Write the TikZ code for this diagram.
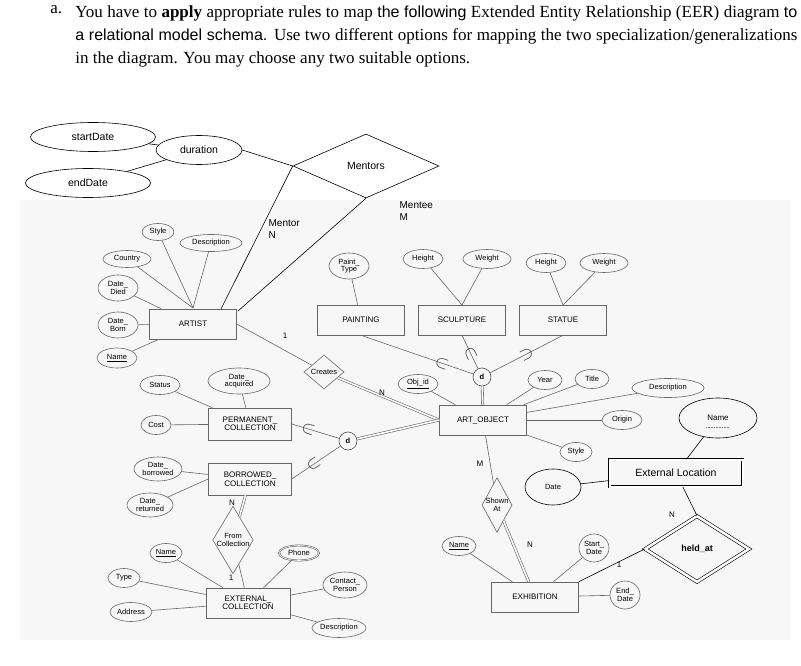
\documentclass[tikz,border=0pt]{standalone}
\usepackage{fontspec}
\setmainfont{Liberation Serif}
\newfontfamily\sfx{Liberation Sans}
\usetikzlibrary{shapes.geometric,shapes.multipart,positioning}
\begin{document}
\begin{tikzpicture}[x=1pt,y=-1pt,line width=0.6pt,
 ln/.style={draw=black!60},
 atr/.style={ellipse,draw=black!60,inner sep=0pt,font=\sfx\fontsize{7.5}{7.5}\selectfont,align=center,minimum height=19pt},
 bat/.style={ellipse,draw=black,inner sep=0pt,font=\sfx\fontsize{10.5}{11}\selectfont,minimum height=29pt},
 ent/.style={rectangle,draw=black!60,inner sep=0pt,font=\sfx\fontsize{8}{8.5}\selectfont,align=center,minimum width=87pt,minimum height=30pt},
 rel/.style={diamond,draw=black!60,inner sep=0pt,aspect=1,font=\sfx\fontsize{7.5}{7.5}\selectfont,align=center},
 dc/.style={circle,draw=black!70,inner sep=0pt,minimum size=18pt,font=\sfx\bfseries\fontsize{7.5}{7.5}\selectfont},
 lab/.style={font=\sfx\fontsize{8}{8}\selectfont},
 dbl/.style={draw=black!60,double,double distance=1.6pt},
 sub/.style={sloped,allow upside down,font=\fontsize{16}{16}\selectfont,inner sep=0pt}]
\useasboundingbox (0,0) rectangle (801,666);
\fill[black!3] (20,200) rectangle (790,640);
% header
\node[anchor=north west,font=\fontsize{17}{17}\selectfont,inner sep=0pt] (la) at (50,5) {a.};
\node[anchor=north west,text width=722pt,align=justify,font=\fontsize{17}{23}\selectfont,inner sep=0pt] (hdr) at (75,5) {You have to \textbf{apply} appropriate rules to map {\sfx\fontsize{16}{23}\selectfont the following} Extended Entity Relationship (EER) diagram {\sfx\fontsize{16}{23}\selectfont to a relational model schema.} Use two different options for mapping the two specialization/generalizations in the diagram. You may choose any two suitable options.};
% top part
\node[bat,minimum width=125pt] (sd) at (93,137) {startDate};
\node[bat,minimum width=86pt] (du) at (199,150) {duration};
\node[bat,minimum width=125pt] (ed) at (88,183) {endDate};
\node[diamond,draw,aspect=2.3,minimum width=146pt,minimum height=64pt,inner sep=0pt,font=\sfx\fontsize{10.5}{11}\selectfont] (mt) at (366,166) {Mentors};
\draw (sd) -- (du); \draw (ed) -- (du); \draw (du.east) -- (mt.west);
\node[ent] (ar) at (193,324) {ARTIST};
\coordinate (arA) at (221,309); \coordinate (arB) at (238,311);
\draw (mt.west) -- (arA);
\draw (mt.south) -- (arB);
\node[lab,font=\sfx\fontsize{10}{12}\selectfont,align=left,anchor=west] (mn) at (265,229) {Mentor\\N};
\node[lab,font=\sfx\fontsize{10}{12}\selectfont,align=left,anchor=west] (me) at (396,211) {Mentee\\M};
% artist attributes
\node[atr,minimum width=32pt,minimum height=17pt] (a1) at (158,232) {Style};
\node[atr,minimum width=62pt,minimum height=17pt] (a2) at (211,243) {Description};
\node[atr,minimum width=48pt,minimum height=17pt] (a3) at (127,259) {Country};
\node[atr,minimum width=40pt,minimum height=26pt] (a4) at (118,288) {Date\_\\Died};
\node[atr,minimum width=40pt,minimum height=26pt] (a5) at (118,325) {Date\_\\Born};
\node[atr,minimum width=40pt,minimum height=20pt] (a6) at (117,358) {\underline{Name}};
\foreach \a in {a1,a2,a3} \draw[ln] (\a) -- (193,308);
\draw[ln] (a4) -- (ar); \draw[ln] (a5) -- (ar); \draw[ln] (a6) -- (ar);
% subclasses
\node[ent] (pa) at (361,320) {PAINTING};
\node[ent] (sc) at (462,320) {SCULPTURE};
\node[ent] (st) at (563,320) {STATUE};
\node[atr,minimum width=40pt,minimum height=26pt] (pt) at (349,266) {Paint\_\\Type};
\node[atr,minimum width=40pt] (h1) at (423,259) {Height};
\node[atr,minimum width=48pt] (w1) at (487,259) {Weight};
\node[atr,minimum width=40pt] (h2) at (546,263) {Height};
\node[atr,minimum width=48pt] (w2) at (604,263) {Weight};
\draw[ln] (pt) -- (pa); \draw[ln] (h1) -- (462,305); \draw[ln] (w1) -- (462,305);
\draw[ln] (h2) -- (563,305); \draw[ln] (w2) -- (563,305);
\node[dc] (d1) at (482,377) {d};
\draw[ln] (pa.south) -- node[sub,pos=.72,text=black!80]{$\subset$} (d1);
\draw[ln] (sc.south) -- node[sub,pos=.55,text=black!80]{$\subset$} (d1);
\draw[ln] (st.south) -- node[sub,pos=.5,text=black!80]{$\subset$} (d1);
\node[ent] (ao) at (483,420) {ART\_OBJECT};
\draw[dbl] (d1) -- (ao);
\node[atr,minimum width=40pt] (o1) at (418,384) {\underline{Obj\_id}};
\node[atr,minimum width=34pt] (o2) at (545,380) {Year};
\node[atr,minimum width=34pt] (o3) at (592,379) {Title};
\node[atr,minimum width=72pt] (o4) at (668,388) {Description};
\node[atr,minimum width=40pt] (o5) at (622,420) {Origin};
\node[atr,minimum width=32pt] (o6) at (576,452) {Style};
\foreach \a in {o1,o2,o3,o4,o5,o6} \draw[ln] (\a) -- (ao);
\node[ellipse,draw,minimum width=78pt,minimum height=40pt,inner sep=0pt,font=\sfx\fontsize{8}{8}\selectfont] (nm) at (718,418) {Name};
\draw[densely dotted,black!50] (706,427) -- (730,427);
\node[rectangle,draw,double,double distance=2pt,minimum width=133pt,minimum height=27pt,font=\sfx\fontsize{10.5}{11}\selectfont] (el) at (676,473) {External Location};
\draw (nm) -- (el);
\node[ellipse,draw,minimum width=56pt,minimum height=36pt,inner sep=0pt,font=\sfx\fontsize{7.5}{8}\selectfont] (dt) at (553,487) {Date};
\draw (dt) -- (el);
\node[diamond,draw,double,double distance=2.5pt,aspect=1.6,minimum width=104pt,minimum height=66pt,inner sep=0pt,font=\sfx\bfseries\fontsize{9}{9}\selectfont] (ha) at (697,549) {held\_at};
% shown at / exhibition
\node[rel,minimum width=28pt,minimum height=48pt,aspect=0.55] (sa) at (497,505) {Shown\\At};
\node[ent] (ex) at (535,597) {EXHIBITION};
\draw[ln] (ao) -- (sa);
\draw[dbl] (sa) -- (ex);
\draw (el) -- (ha.north); \draw (ha.west) -- (ex.north east);
\node[lab] (lm) at (480,464) {M};
\node[lab] (ln1) at (530,545) {N};
\node[lab] (ln2) at (672,515) {N};
\node[lab] (l11) at (619,565) {1};
\node[atr,minimum width=34pt] (e1) at (459,546) {\underline{Name}};
\node[atr,minimum width=30pt,minimum height=28pt] (e2) at (594,548) {Start\_\\Date};
\node[atr,minimum width=30pt,minimum height=28pt] (e3) at (625,595) {End\_\\Date};
\foreach \a in {e1,e2,e3} \draw[ln] (\a) -- (ex);
% creates
\node[rel,minimum width=40pt,minimum height=34pt,aspect=1.2] (cr) at (324,372) {Creates};
\draw[ln] (ar.east) -- (cr); \draw[dbl] (cr) -- (ao.west);
\node[lab] (lc1) at (285,336) {1};
\node[lab] (lc2) at (382,393) {N};
% collections
\node[dc] (d2) at (348,441) {d};
\node[ent,minimum width=83pt,minimum height=32pt] (pc) at (250,424) {PERMANENT\_\\COLLECTION};
\node[ent,minimum width=83pt,minimum height=32pt] (bc) at (250,479) {BORROWED\_\\COLLECTION};
\draw[dbl] (d2) -- (ao.west);
\draw[ln] (pc.east) -- node[sub,pos=.35,text=black!80]{$\subset$} (d2);
\draw[ln] (bc.east) -- node[sub,pos=.45,text=black!80]{$\subset$} (d2);
\node[atr,minimum width=40pt] (p1) at (160,385) {Status};
\node[atr,minimum width=62pt,minimum height=26pt] (p2) at (239,381) {Date\_\\acquired};
\node[atr,minimum width=30pt] (p3) at (156,425) {Cost};
\foreach \a in {p1,p2,p3} \draw[ln] (\a) -- (pc);
\node[atr,minimum width=48pt,minimum height=24pt] (b1) at (158,469) {Date\_\\borrowed};
\node[atr,minimum width=46pt,minimum height=24pt] (b2) at (150,505) {Date\_\\returned};
\draw[ln] (b1) -- (bc); \draw[ln] (b2) -- (bc.west);
\node[rel,minimum width=36pt,minimum height=60pt,aspect=0.6] (fc) at (233,540) {From\\Collection};
\node[ent,minimum width=84pt] (xc) at (248,603) {EXTERNAL\_\\COLLECTION};
\draw[dbl] (bc) -- (fc); \draw[ln] (fc) -- (xc);
\node[lab] (lf1) at (232,503) {N};
\node[lab] (lf2) at (231,578) {1};
\node[atr,minimum width=32pt] (x1) at (166,553) {\underline{Name}};
\node[atr,minimum width=32pt] (x2) at (124,578) {Type};
\node[atr,minimum width=42pt] (x3) at (131,612) {Address};
\node[atr,double,minimum width=40pt,minimum height=15pt] (x4) at (299,553) {Phone};
\node[atr,minimum width=44pt,minimum height=26pt] (x5) at (345,585) {Contact\_\\Person};
\node[atr,minimum width=54pt] (x6) at (339,628) {Description};
\foreach \a in {x1,x2,x3,x4,x5,x6} \draw[ln] (\a) -- (xc);
\end{tikzpicture}
\end{document}
